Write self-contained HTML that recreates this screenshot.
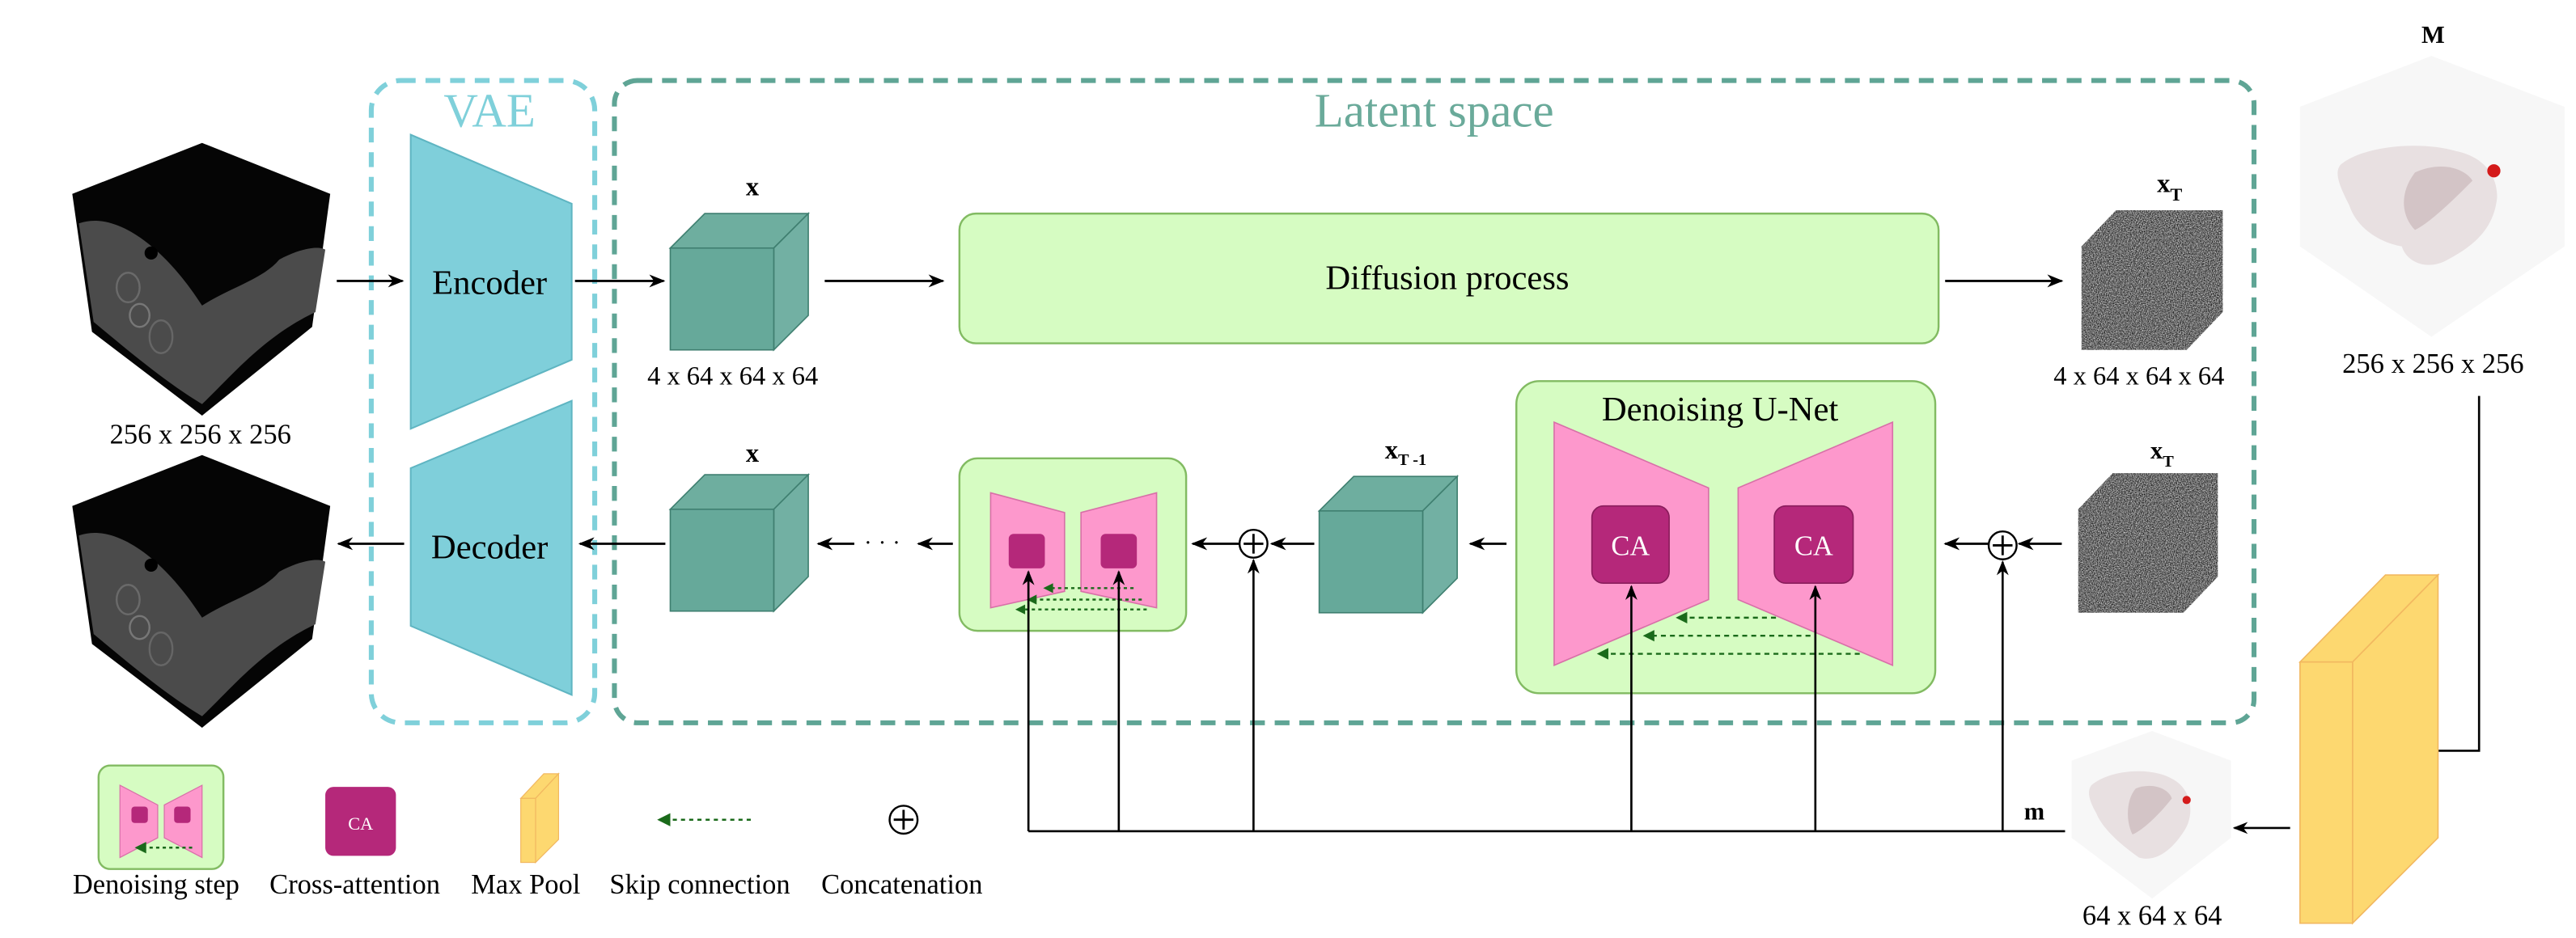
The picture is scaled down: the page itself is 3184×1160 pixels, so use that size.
<!DOCTYPE html>
<html><head><meta charset="utf-8"><style>
html,body{margin:0;padding:0;background:#fff;}
svg{display:block;}
text{font-family:"Liberation Serif",serif;}
</style></head><body>
<svg width="3184" height="1160" viewBox="0 0 1568 571" preserveAspectRatio="none" xmlns="http://www.w3.org/2000/svg">
<defs>
<marker id="ah" viewBox="0 0 10 10" refX="9" refY="5" markerWidth="7" markerHeight="7" orient="auto"><path d="M0,1 L10,5 L0,9 L3,5 z" fill="#000"/></marker>
<filter id="nz" x="0" y="0" width="100%" height="100%" color-interpolation-filters="sRGB">
<feTurbulence type="fractalNoise" baseFrequency="1.6" numOctaves="2" seed="3" result="t"/>
<feColorMatrix in="t" type="matrix" values="1.3 0 0 0 -0.22  1.3 0 0 0 -0.22  1.3 0 0 0 -0.22  0 0 0 0 1" result="g"/>
<feComposite in="g" in2="SourceGraphic" operator="in"/>
</filter>
</defs>

<!-- VAE box -->
<rect x="226" y="49" width="136" height="391" rx="18" fill="none" stroke="#7fd0da" stroke-width="3" stroke-dasharray="9,6"/>
<text x="298" y="77" font-size="29" fill="#7fd0da" text-anchor="middle">VAE</text>
<!-- Latent space box -->
<rect x="374" y="49" width="998" height="391" rx="14" fill="none" stroke="#5fa595" stroke-width="3" stroke-dasharray="9,6"/>
<text x="873" y="77" font-size="29" fill="#6aaa9a" text-anchor="middle">Latent space</text>

<!-- CT cubes -->
<g id="ct">
<polygon points="123,87 201,118 190,199 123,253 56,202 44,118" fill="#050505"/>
<path d="M48,136 C70,128 100,150 123,186 C140,175 160,170 170,158 C185,150 195,150 198,152 L192,190 C160,205 140,230 123,246 C100,232 80,215 57,196 Z" fill="#4b4b4b"/>
<circle cx="92" cy="154" r="4" fill="#000"/>
<ellipse cx="78" cy="175" rx="7" ry="9" fill="none" stroke="#6a6a6a" stroke-width="1.2"/>
<ellipse cx="98" cy="205" rx="7" ry="10" fill="none" stroke="#666" stroke-width="1.2"/>
<ellipse cx="85" cy="192" rx="6" ry="7" fill="none" stroke="#777" stroke-width="1.2"/>
</g>
<use href="#ct" transform="translate(0,190)"/>
<text x="122" y="270" font-size="17" text-anchor="middle">256 x 256 x 256</text>

<!-- Encoder / Decoder -->
<polygon points="250,82 348,124 348,219 250,261" fill="#7fcfda" stroke="#5fb5c2" stroke-width="1"/>
<text x="298" y="179" font-size="21" text-anchor="middle">Encoder</text>
<polygon points="250,285 348,244 348,423 250,381" fill="#7fcfda" stroke="#5fb5c2" stroke-width="1"/>
<text x="298" y="340" font-size="21" text-anchor="middle">Decoder</text>

<g stroke="#000" stroke-width="1.4" fill="none">
<line x1="205" y1="171" x2="245" y2="171" marker-end="url(#ah)"/>
<line x1="350" y1="171" x2="404" y2="171" marker-end="url(#ah)"/>
<line x1="502" y1="171" x2="574" y2="171" marker-end="url(#ah)"/>
<line x1="1184" y1="171" x2="1255" y2="171" marker-end="url(#ah)"/>
<line x1="405" y1="331" x2="353" y2="331" marker-end="url(#ah)"/>
<line x1="246" y1="331" x2="206" y2="331" marker-end="url(#ah)"/>
<line x1="520" y1="331" x2="498" y2="331" marker-end="url(#ah)"/>
<line x1="580" y1="331" x2="559" y2="331" marker-end="url(#ah)"/>
<line x1="754" y1="331" x2="726" y2="331" marker-end="url(#ah)"/>
<line x1="800" y1="331" x2="774" y2="331" marker-end="url(#ah)"/>
<line x1="917" y1="331" x2="895" y2="331" marker-end="url(#ah)"/>
<line x1="1210" y1="331" x2="1184" y2="331" marker-end="url(#ah)"/>
<line x1="1255" y1="331" x2="1229" y2="331" marker-end="url(#ah)"/>
</g>
<text x="539" y="335" font-size="14" text-anchor="middle" letter-spacing="4">···</text>

<!-- latent cubes -->
<g id="lc">
<polygon points="408,151 429,130 492,130 471,151" fill="#6eae9f" stroke="#3f7f70" stroke-width="0.8"/>
<polygon points="471,151 492,130 492,192 471,213" fill="#72b0a3" stroke="#3f7f70" stroke-width="0.8"/>
<rect x="408" y="151" width="63" height="62" fill="#66a99a" stroke="#3f7f70" stroke-width="0.8"/>
</g>
<use href="#lc" transform="translate(0,159)"/>
<use href="#lc" transform="translate(395,160)"/>
<text x="458" y="119" font-size="16" font-weight="bold" text-anchor="middle">x</text>
<text x="446" y="234" font-size="16" text-anchor="middle">4 x 64 x 64 x 64</text>
<text x="458" y="281" font-size="16" font-weight="bold" text-anchor="middle">x</text>
<text x="843" y="279" font-size="16" font-weight="bold">x<tspan font-size="10" dy="4">T -1</tspan></text>

<!-- Diffusion -->
<rect x="584" y="130" width="596" height="79" rx="10" fill="#d6fcc2" stroke="#82bb62" stroke-width="1.2"/>
<text x="881" y="176" font-size="21" text-anchor="middle">Diffusion process</text>

<!-- noise cubes -->
<polygon points="1267,150 1288,128 1353,128 1353,190 1331,213 1267,213" fill="#777" filter="url(#nz)"/>
<polygon points="1265,310 1286,288 1350,288 1350,351 1329,373 1265,373" fill="#777" filter="url(#nz)"/>
<text x="1313" y="117" font-size="16" font-weight="bold">x<tspan font-size="11" dy="5">T</tspan></text>
<text x="1302" y="234" font-size="16" text-anchor="middle">4 x 64 x 64 x 64</text>
<text x="1309" y="279" font-size="15" font-weight="bold">x<tspan font-size="10" dy="5">T</tspan></text>

<!-- plus signs -->
<g stroke="#000" stroke-width="1.2" fill="#fff">
<circle cx="763" cy="331" r="8.5"/><circle cx="1219" cy="332" r="8.5"/><circle cx="550" cy="499" r="8.5"/>
</g>
<g stroke="#000" stroke-width="1.4">
<path d="M763,325 v12 M757,331 h12"/><path d="M1219,326 v12 M1213,332 h12"/><path d="M550,493 v12 M544,499 h12"/>
</g>

<!-- small denoising step -->
<rect x="584" y="279" width="138" height="105" rx="11" fill="#d6fcc2" stroke="#82bb62" stroke-width="1.2"/>
<polygon points="603,300 648,312 648,360 603,370" fill="#fd98cc" stroke="#d870a8" stroke-width="0.8"/>
<polygon points="658,312 704,300 704,370 658,360" fill="#fd98cc" stroke="#d870a8" stroke-width="0.8"/>
<rect x="614" y="325" width="22" height="21" rx="3" fill="#b5287a"/>
<rect x="670" y="325" width="22" height="21" rx="3" fill="#b5287a"/>
<g stroke="#1a6a1a" stroke-width="1.2" stroke-dasharray="2,2" fill="none">
<line x1="690" y1="358" x2="640" y2="358"/>
<line x1="695" y1="365" x2="630" y2="365"/>
<line x1="698" y1="371" x2="622" y2="371"/>
</g>
<g fill="#1a6a1a"><path d="M635,358 l6,-3 v6z"/><path d="M625,365 l6,-3 v6z"/><path d="M618,371 l6,-3 v6z"/></g>

<!-- U-Net -->
<rect x="923" y="232" width="255" height="190" rx="14" fill="#d6fcc2" stroke="#82bb62" stroke-width="1.2"/>
<text x="1047" y="256" font-size="21" text-anchor="middle">Denoising U-Net</text>
<polygon points="946,257 1040,297 1040,365 946,405" fill="#fd98cc" stroke="#d870a8" stroke-width="0.8"/>
<polygon points="1058,297 1152,257 1152,405 1058,365" fill="#fd98cc" stroke="#d870a8" stroke-width="0.8"/>
<rect x="969" y="308" width="47" height="47" rx="7" fill="#b5287a" stroke="#8a1d5c" stroke-width="0.8"/>
<rect x="1080" y="308" width="48" height="47" rx="7" fill="#b5287a" stroke="#8a1d5c" stroke-width="0.8"/>
<text x="992.5" y="338" font-size="17" fill="#fff" text-anchor="middle" font-family="Liberation Sans,sans-serif">CA</text>
<text x="1104" y="338" font-size="17" fill="#fff" text-anchor="middle" font-family="Liberation Sans,sans-serif">CA</text>
<g stroke="#1a6a1a" stroke-width="1.2" stroke-dasharray="3,2.5" fill="none">
<line x1="1081" y1="376" x2="1026" y2="376"/>
<line x1="1102" y1="387" x2="1006" y2="387"/>
<line x1="1132" y1="398" x2="978" y2="398"/>
</g>
<g fill="#1a6a1a"><path d="M1020,376 l7,-3.5 v7z"/><path d="M1000,387 l7,-3.5 v7z"/><path d="M972,398 l7,-3.5 v7z"/></g>

<!-- vertical conditioning lines -->
<g stroke="#000" stroke-width="1.3" fill="none">
<line x1="626" y1="506" x2="1257" y2="506"/>
<line x1="626" y1="506" x2="626" y2="348" marker-end="url(#ah)"/>
<line x1="681" y1="506" x2="681" y2="348" marker-end="url(#ah)"/>
<line x1="763" y1="506" x2="763" y2="341" marker-end="url(#ah)"/>
<line x1="993" y1="506" x2="993" y2="357" marker-end="url(#ah)"/>
<line x1="1105" y1="506" x2="1105" y2="357" marker-end="url(#ah)"/>
<line x1="1219" y1="506" x2="1219" y2="342" marker-end="url(#ah)"/>
<polyline points="1509,241 1509,457 1459,457" marker-end="url(#ah)"/>
<line x1="1394" y1="504" x2="1360" y2="504" marker-end="url(#ah)"/>
</g>
<text x="1232" y="499" font-size="15" font-weight="bold">m</text>

<!-- M mask -->
<polygon points="1480,34 1561,65 1561,150 1480,205 1400,150 1400,65" fill="#f7f7f7"/>
<path d="M1425,100 C1440,88 1475,86 1495,92 C1510,95 1520,105 1520,120 C1518,140 1505,150 1490,158 C1478,165 1465,160 1462,150 C1450,148 1435,140 1430,125 C1425,115 1420,105 1425,100Z" fill="#e8e0e1"/>
<path d="M1470,105 C1485,98 1500,102 1505,110 C1495,120 1480,135 1470,140 C1462,132 1460,118 1470,105Z" fill="#d3c4c6"/>
<ellipse cx="1518" cy="104" rx="4" ry="4" fill="#d41a1a"/>
<text x="1481" y="26" font-size="15" font-weight="bold" text-anchor="middle">M</text>
<text x="1481" y="227" font-size="17" text-anchor="middle">256 x 256 x 256</text>

<!-- small mask -->
<polygon points="1310,445 1358,463 1358,510 1310,547 1261,510 1261,463" fill="#f7f7f7"/>
<path d="M1273,478 C1285,468 1310,467 1322,474 C1334,480 1336,495 1330,505 C1322,518 1312,525 1302,522 C1292,515 1280,505 1276,495 C1272,488 1270,482 1273,478Z" fill="#e8e0e1"/>
<path d="M1300,480 C1310,476 1320,480 1322,486 C1315,495 1305,505 1298,508 C1294,500 1294,487 1300,480Z" fill="#d3c4c6"/>
<circle cx="1331" cy="487" r="2.5" fill="#d41a1a"/>
<text x="1310" y="563" font-size="17" text-anchor="middle">64 x 64 x 64</text>

<!-- max pool -->
<polygon points="1400,403 1452,350 1484,350 1432,403" fill="#fdd870" stroke="#f2b860" stroke-width="0.8"/>
<polygon points="1432,403 1484,350 1484,510 1432,562" fill="#fdd870" stroke="#f2b860" stroke-width="0.8"/>
<rect x="1400" y="403" width="32" height="159" fill="#fdd870" stroke="#f2b860" stroke-width="0.8"/>

<!-- legend -->
<rect x="60" y="466" width="76" height="63" rx="7" fill="#d6fcc2" stroke="#82bb62" stroke-width="1.2"/>
<polygon points="73,478 96,490 96,510 73,522" fill="#fd98cc" stroke="#d870a8" stroke-width="0.6"/>
<polygon points="100,490 123,478 123,522 100,510" fill="#fd98cc" stroke="#d870a8" stroke-width="0.6"/>
<rect x="80" y="491" width="10" height="10" rx="2" fill="#b5287a"/>
<rect x="106" y="491" width="10" height="10" rx="2" fill="#b5287a"/>
<line x1="117" y1="516" x2="90" y2="516" stroke="#1a6a1a" stroke-width="1.2" stroke-dasharray="2,2"/>
<path d="M82,516 l7,-3.5 v7z" fill="#1a6a1a"/>
<rect x="198" y="479" width="43" height="42" rx="5" fill="#b5287a"/>
<text x="219.5" y="505" font-size="11" fill="#fff" text-anchor="middle" font-family="Liberation Sans,sans-serif">CA</text>
<polygon points="317,486 331,471 340,471 326,486" fill="#fdd870" stroke="#f2b860" stroke-width="0.6"/>
<polygon points="326,486 340,471 340,511 326,525" fill="#fdd870" stroke="#f2b860" stroke-width="0.6"/>
<rect x="317" y="486" width="9" height="39" fill="#fdd870" stroke="#f2b860" stroke-width="0.6"/>
<line x1="457" y1="499" x2="408" y2="499" stroke="#1a6a1a" stroke-width="1.2" stroke-dasharray="2.5,2.5"/>
<path d="M400,499 l8,-4 v8z" fill="#1a6a1a"/>
<g font-size="17" text-anchor="middle">
<text x="95" y="544">Denoising step</text>
<text x="216" y="544">Cross-attention</text>
<text x="320" y="544">Max Pool</text>
<text x="426" y="544">Skip connection</text>
<text x="549" y="544">Concatenation</text>
</g>
</svg>
</body></html>
